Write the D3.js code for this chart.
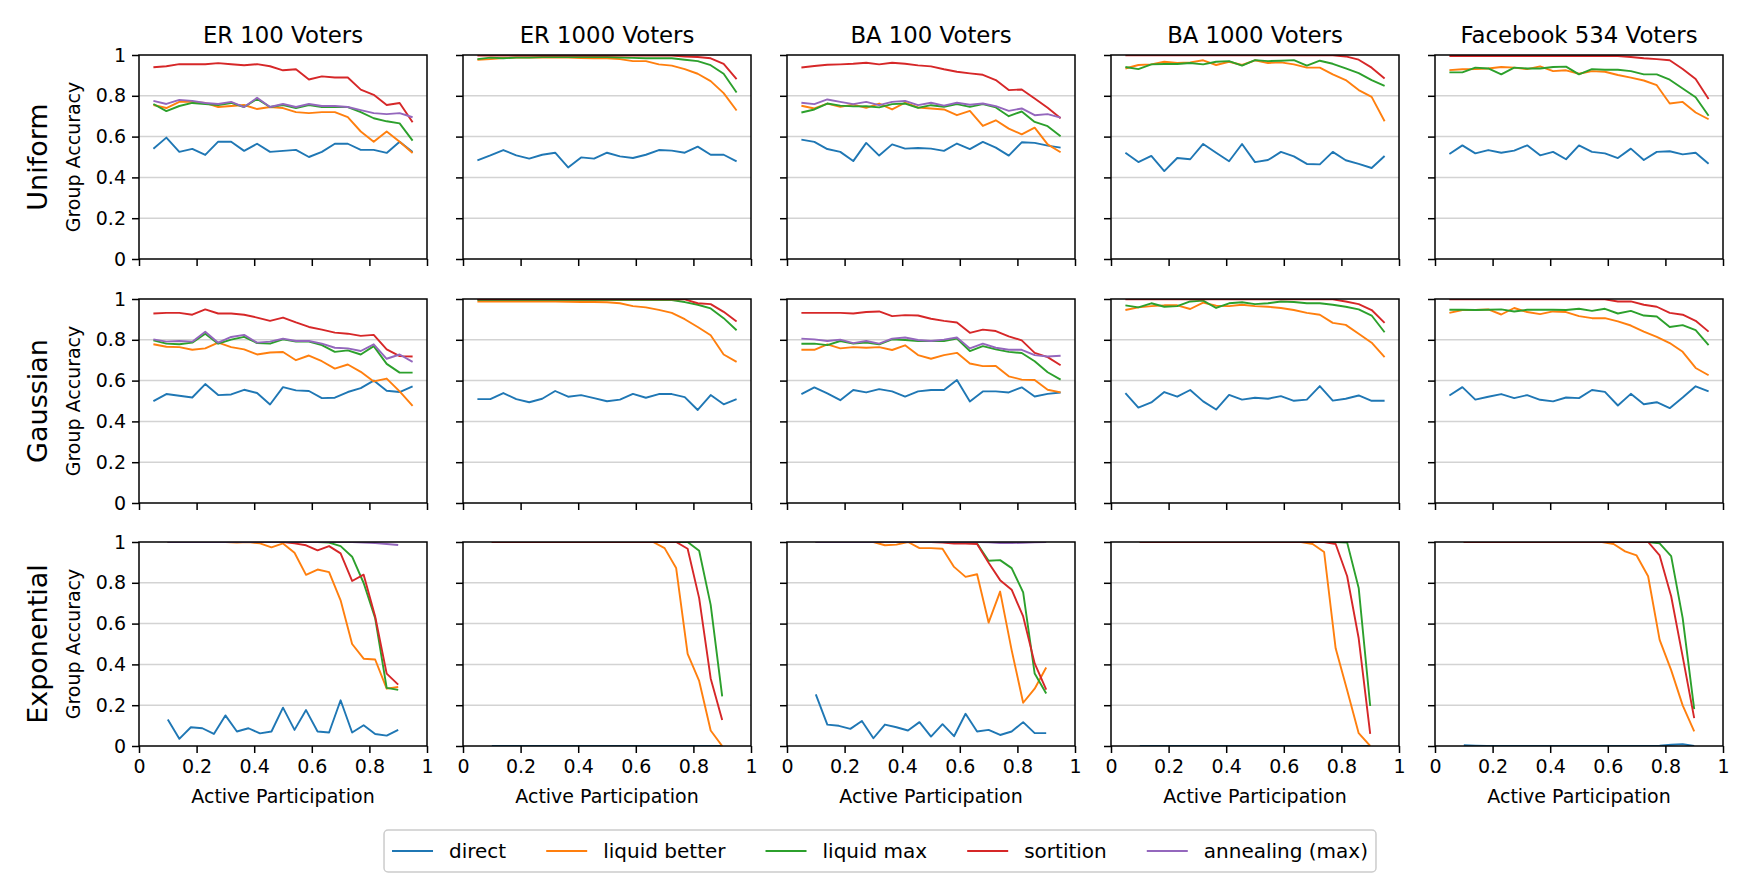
<!DOCTYPE html>
<html>
<head>
<meta charset="utf-8">
<script src="https://cdn.jsdelivr.net/npm/d3@7"></script>
<style>
    body { margin: 0; background: #fff; }
    svg { display: block; font-family: "DejaVu Sans", sans-serif; }
</style>
</head>
<body>
<svg id="chart" width="1755" height="880"></svg>
<script>
// --- Labels / ticks ---
const columnTitles = ['ER 100 Voters', 'ER 1000 Voters', 'BA 100 Voters', 'BA 1000 Voters', 'Facebook 534 Voters'];
const rowTitles = ['Uniform', 'Gaussian', 'Exponential'];
const seriesNames = ['direct', 'liquid better', 'liquid max', 'sortition', 'annealing (max)'];
const xTicks = [0, 0.2, 0.4, 0.6, 0.8, 1];
const yTicks = [0, 0.2, 0.4, 0.6, 0.8, 1];
const xTickLabels = ['0', '0.2', '0.4', '0.6', '0.8', '1'];
const yTickLabels = ['0', '0.2', '0.4', '0.6', '0.8', '1'];

// participation levels (uniform / gaussian rows, and exponential row)
const xFine = [0.05, 0.095, 0.14, 0.185, 0.23, 0.275, 0.32, 0.365, 0.41, 0.455, 0.5, 0.545, 0.59, 0.635, 0.68, 0.725, 0.77, 0.815, 0.86, 0.905, 0.95];
const xExp = [0.1, 0.14, 0.18, 0.22, 0.26, 0.3, 0.34, 0.38, 0.42, 0.46, 0.5, 0.54, 0.58, 0.62, 0.66, 0.7, 0.74, 0.78, 0.82, 0.86, 0.9];

// --- Uniform ---
const er100UniDirect = [0.54, 0.595, 0.525, 0.54, 0.51, 0.575, 0.575, 0.53, 0.565, 0.525, 0.53, 0.535, 0.5, 0.525, 0.565, 0.565, 0.535, 0.535, 0.52, 0.575, 0.525];
const er100UniBetter = [0.755, 0.74, 0.77, 0.77, 0.765, 0.745, 0.75, 0.755, 0.735, 0.745, 0.74, 0.72, 0.715, 0.72, 0.72, 0.695, 0.625, 0.575, 0.625, 0.575, 0.52];
const er100UniMax = [0.76, 0.725, 0.75, 0.765, 0.76, 0.755, 0.765, 0.745, 0.785, 0.745, 0.755, 0.74, 0.755, 0.745, 0.745, 0.745, 0.72, 0.69, 0.675, 0.665, 0.58];
const er100UniSort = [0.94, 0.945, 0.955, 0.955, 0.955, 0.96, 0.955, 0.95, 0.955, 0.945, 0.925, 0.93, 0.88, 0.895, 0.89, 0.89, 0.83, 0.805, 0.755, 0.765, 0.67];
const er100UniAnneal = [0.775, 0.76, 0.78, 0.775, 0.765, 0.76, 0.77, 0.745, 0.79, 0.745, 0.76, 0.745, 0.76, 0.75, 0.75, 0.745, 0.73, 0.715, 0.71, 0.715, 0.695];

const er1000UniDirect = [0.484, 0.508, 0.534, 0.508, 0.492, 0.511, 0.521, 0.449, 0.498, 0.492, 0.521, 0.503, 0.495, 0.511, 0.534, 0.531, 0.521, 0.551, 0.511, 0.511, 0.479];
const er1000UniBetter = [0.977, 0.98, 0.985, 0.987, 0.987, 0.987, 0.987, 0.987, 0.985, 0.984, 0.984, 0.98, 0.97, 0.97, 0.954, 0.948, 0.931, 0.908, 0.872, 0.813, 0.728];
const er1000UniMax = [0.98, 0.987, 0.984, 0.988, 0.988, 0.99, 0.99, 0.99, 0.99, 0.99, 0.99, 0.988, 0.986, 0.984, 0.984, 0.984, 0.977, 0.97, 0.95, 0.908, 0.816];
const er1000UniSort = [0.997, 0.997, 0.997, 0.997, 0.997, 0.997, 0.997, 0.997, 0.997, 0.997, 0.997, 0.997, 0.997, 0.997, 0.997, 0.997, 0.993, 0.99, 0.984, 0.957, 0.882];

const ba100UniDirect = [0.585, 0.574, 0.539, 0.525, 0.48, 0.569, 0.507, 0.562, 0.541, 0.544, 0.541, 0.53, 0.566, 0.539, 0.574, 0.546, 0.507, 0.572, 0.569, 0.556, 0.546];
const ba100UniBetter = [0.751, 0.738, 0.762, 0.746, 0.757, 0.741, 0.762, 0.733, 0.766, 0.743, 0.738, 0.733, 0.705, 0.726, 0.652, 0.68, 0.639, 0.611, 0.644, 0.562, 0.523];
const ba100UniMax = [0.718, 0.733, 0.762, 0.752, 0.748, 0.749, 0.743, 0.759, 0.762, 0.741, 0.754, 0.746, 0.759, 0.746, 0.759, 0.743, 0.7, 0.723, 0.672, 0.651, 0.602];
const ba100UniSort = [0.939, 0.946, 0.952, 0.954, 0.957, 0.962, 0.954, 0.962, 0.957, 0.949, 0.944, 0.93, 0.918, 0.91, 0.903, 0.877, 0.828, 0.831, 0.787, 0.741, 0.69];
const ba100UniAnneal = [0.766, 0.759, 0.782, 0.77, 0.759, 0.77, 0.754, 0.77, 0.775, 0.754, 0.766, 0.752, 0.766, 0.756, 0.762, 0.749, 0.726, 0.738, 0.705, 0.71, 0.693];

const ba1000UniDirect = [0.521, 0.475, 0.505, 0.431, 0.495, 0.489, 0.564, 0.521, 0.479, 0.564, 0.475, 0.485, 0.525, 0.503, 0.466, 0.464, 0.525, 0.484, 0.466, 0.446, 0.505];
const ba1000UniBetter = [0.934, 0.951, 0.954, 0.967, 0.961, 0.964, 0.974, 0.951, 0.967, 0.951, 0.974, 0.961, 0.964, 0.954, 0.938, 0.938, 0.905, 0.877, 0.828, 0.795, 0.675];
const ba1000UniMax = [0.941, 0.931, 0.954, 0.956, 0.956, 0.961, 0.954, 0.967, 0.97, 0.948, 0.975, 0.97, 0.972, 0.975, 0.948, 0.972, 0.957, 0.934, 0.911, 0.877, 0.849];
const ba1000UniSort = [0.998, 0.998, 0.998, 0.998, 0.998, 0.998, 0.998, 0.998, 0.998, 0.998, 0.998, 0.998, 0.998, 0.998, 0.998, 0.998, 0.998, 0.993, 0.977, 0.938, 0.885];

const fbUniDirect = [0.515, 0.557, 0.518, 0.534, 0.521, 0.531, 0.557, 0.508, 0.525, 0.489, 0.557, 0.525, 0.518, 0.495, 0.541, 0.485, 0.525, 0.528, 0.513, 0.521, 0.467];
const fbUniBetter = [0.926, 0.93, 0.931, 0.934, 0.941, 0.938, 0.931, 0.944, 0.921, 0.925, 0.908, 0.921, 0.918, 0.902, 0.889, 0.875, 0.852, 0.762, 0.77, 0.718, 0.685];
const fbUniMax = [0.915, 0.915, 0.938, 0.934, 0.905, 0.938, 0.934, 0.934, 0.941, 0.943, 0.905, 0.931, 0.928, 0.928, 0.921, 0.905, 0.905, 0.879, 0.836, 0.793, 0.702];
const fbUniSort = [0.995, 0.995, 0.995, 0.995, 0.995, 0.995, 0.995, 0.995, 0.995, 0.995, 0.995, 0.995, 0.995, 0.995, 0.99, 0.984, 0.98, 0.974, 0.931, 0.882, 0.784];

// --- Gaussian ---
const er100GauDirect = [0.499, 0.534, 0.526, 0.517, 0.583, 0.529, 0.532, 0.555, 0.539, 0.483, 0.568, 0.552, 0.549, 0.514, 0.516, 0.544, 0.563, 0.6, 0.55, 0.544, 0.572];
const er100GauBetter = [0.778, 0.766, 0.764, 0.751, 0.758, 0.786, 0.764, 0.753, 0.728, 0.738, 0.74, 0.7, 0.723, 0.695, 0.659, 0.679, 0.643, 0.596, 0.61, 0.547, 0.476];
const er100GauMax = [0.797, 0.781, 0.778, 0.786, 0.83, 0.781, 0.801, 0.814, 0.784, 0.781, 0.802, 0.791, 0.791, 0.774, 0.741, 0.748, 0.728, 0.769, 0.682, 0.639, 0.639];
const er100GauSort = [0.929, 0.932, 0.932, 0.923, 0.949, 0.929, 0.929, 0.923, 0.909, 0.893, 0.909, 0.885, 0.863, 0.85, 0.835, 0.83, 0.819, 0.824, 0.753, 0.72, 0.718];
const er100GauAnneal = [0.802, 0.791, 0.794, 0.791, 0.839, 0.786, 0.814, 0.824, 0.786, 0.791, 0.806, 0.794, 0.794, 0.781, 0.761, 0.758, 0.745, 0.778, 0.707, 0.728, 0.692];

const er1000GauDirect = [0.509, 0.509, 0.539, 0.509, 0.494, 0.511, 0.549, 0.521, 0.529, 0.514, 0.499, 0.507, 0.535, 0.516, 0.534, 0.534, 0.519, 0.456, 0.529, 0.484, 0.509];
const er1000GauBetter = [0.987, 0.987, 0.988, 0.988, 0.988, 0.987, 0.987, 0.986, 0.985, 0.985, 0.984, 0.979, 0.965, 0.959, 0.947, 0.932, 0.901, 0.863, 0.822, 0.728, 0.692];
const er1000GauMax = [0.995, 0.995, 0.995, 0.995, 0.995, 0.995, 0.995, 0.995, 0.995, 0.995, 0.995, 0.995, 0.995, 0.995, 0.995, 0.995, 0.985, 0.972, 0.954, 0.906, 0.847];
const er1000GauSort = [0.998, 0.998, 0.998, 0.998, 0.998, 0.998, 0.998, 0.998, 0.998, 0.998, 0.998, 0.998, 0.998, 0.998, 0.998, 0.998, 0.998, 0.979, 0.975, 0.937, 0.89];

const ba100GauDirect = [0.534, 0.567, 0.537, 0.504, 0.554, 0.542, 0.558, 0.547, 0.522, 0.547, 0.554, 0.554, 0.603, 0.498, 0.547, 0.547, 0.542, 0.567, 0.522, 0.535, 0.542];
const ba100GauBetter = [0.751, 0.751, 0.778, 0.758, 0.764, 0.761, 0.764, 0.75, 0.773, 0.725, 0.707, 0.725, 0.736, 0.684, 0.671, 0.672, 0.621, 0.605, 0.603, 0.555, 0.542];
const ba100GauMax = [0.781, 0.781, 0.774, 0.794, 0.781, 0.786, 0.778, 0.802, 0.799, 0.794, 0.794, 0.794, 0.806, 0.745, 0.769, 0.753, 0.741, 0.735, 0.695, 0.641, 0.605];
const ba100GauSort = [0.932, 0.932, 0.932, 0.932, 0.929, 0.936, 0.939, 0.916, 0.921, 0.919, 0.903, 0.893, 0.885, 0.834, 0.85, 0.843, 0.817, 0.797, 0.736, 0.715, 0.675];
const ba100GauAnneal = [0.806, 0.802, 0.794, 0.801, 0.784, 0.794, 0.781, 0.806, 0.811, 0.799, 0.794, 0.801, 0.811, 0.758, 0.781, 0.761, 0.751, 0.751, 0.725, 0.718, 0.722];

const ba1000GauDirect = [0.539, 0.468, 0.493, 0.544, 0.521, 0.554, 0.498, 0.458, 0.53, 0.507, 0.516, 0.511, 0.524, 0.501, 0.507, 0.573, 0.502, 0.511, 0.527, 0.501, 0.501];
const ba1000GauBetter = [0.946, 0.959, 0.965, 0.969, 0.969, 0.951, 0.982, 0.967, 0.965, 0.972, 0.965, 0.962, 0.956, 0.946, 0.932, 0.923, 0.883, 0.873, 0.83, 0.786, 0.715];
const ba1000GauMax = [0.969, 0.959, 0.979, 0.962, 0.965, 0.988, 0.992, 0.956, 0.979, 0.984, 0.975, 0.979, 0.988, 0.985, 0.979, 0.979, 0.972, 0.962, 0.949, 0.919, 0.837];
const ba1000GauSort = [0.998, 0.998, 0.998, 0.998, 0.998, 0.998, 0.998, 0.998, 0.998, 0.998, 0.998, 0.998, 0.998, 0.998, 0.998, 0.998, 0.998, 0.988, 0.975, 0.946, 0.883];

const fbGauDirect = [0.527, 0.568, 0.507, 0.521, 0.534, 0.514, 0.529, 0.506, 0.498, 0.517, 0.514, 0.554, 0.545, 0.478, 0.535, 0.484, 0.494, 0.465, 0.517, 0.572, 0.547];
const fbGauBetter = [0.932, 0.946, 0.946, 0.949, 0.924, 0.956, 0.936, 0.926, 0.939, 0.936, 0.916, 0.906, 0.906, 0.89, 0.87, 0.84, 0.814, 0.784, 0.741, 0.662, 0.626];
const fbGauMax = [0.947, 0.947, 0.946, 0.947, 0.949, 0.939, 0.947, 0.947, 0.947, 0.946, 0.952, 0.942, 0.952, 0.929, 0.942, 0.919, 0.914, 0.863, 0.872, 0.847, 0.774];
const fbGauSort = [0.998, 0.998, 0.998, 0.998, 0.998, 0.998, 0.998, 0.998, 0.998, 0.998, 0.998, 0.998, 0.998, 0.988, 0.988, 0.972, 0.962, 0.932, 0.923, 0.893, 0.84];

// --- Exponential ---
const er100ExpDirect = [0.13, 0.035, 0.092, 0.087, 0.059, 0.15, 0.071, 0.087, 0.062, 0.071, 0.188, 0.079, 0.176, 0.071, 0.066, 0.224, 0.066, 0.102, 0.059, 0.051, 0.079];
const er100ExpBetter = [1, 1, 1, 1, 1, 1, 0.997, 1, 0.993, 0.974, 0.993, 0.947, 0.839, 0.865, 0.852, 0.714, 0.5, 0.428, 0.424, 0.281, 0.289];
const er100ExpMax = [1, 1, 1, 1, 1, 1, 1, 1, 1, 1, 1, 1, 1, 1, 0.997, 0.98, 0.928, 0.799, 0.627, 0.285, 0.275];
const er100ExpSort = [1, 1, 1, 1, 1, 1, 1, 1, 1, 1, 1, 0.993, 0.984, 0.959, 0.98, 0.944, 0.809, 0.84, 0.635, 0.355, 0.301];
const er100ExpAnneal = [1, 1, 1, 1, 1, 1, 1, 1, 1, 1, 1, 1, 1, 1, 1, 1, 1, 0.997, 0.995, 0.99, 0.985];

const er1000ExpDirect = [0, 0, 0, 0, 0, 0, 0, 0, 0, 0, 0, 0, 0, 0, 0, 0, 0, 0, 0, 0, 0];
const er1000ExpBetter = [1, 1, 1, 1, 1, 1, 1, 1, 1, 1, 1, 1, 1, 1, 1, 0.97, 0.873, 0.451, 0.319, 0.076, 0.0];
const er1000ExpMax = [1, 1, 1, 1, 1, 1, 1, 1, 1, 1, 1, 1, 1, 1, 1, 1, 1, 1, 0.957, 0.692, 0.243];
const er1000ExpSort = [1, 1, 1, 1, 1, 1, 1, 1, 1, 1, 1, 1, 1, 1, 1, 1, 1, 0.967, 0.725, 0.331, 0.128];

const ba100ExpDirect = [0.253, 0.105, 0.099, 0.084, 0.123, 0.038, 0.105, 0.092, 0.076, 0.117, 0.046, 0.107, 0.048, 0.158, 0.071, 0.079, 0.054, 0.071, 0.117, 0.063, 0.063];
const ba100ExpBetter = [1, 1, 1, 1, 1, 1, 0.984, 0.987, 1, 0.97, 0.97, 0.967, 0.878, 0.829, 0.842, 0.605, 0.757, 0.47, 0.212, 0.281, 0.385];
const ba100ExpMax = [1, 1, 1, 1, 1, 1, 1, 1, 1, 1, 1, 1, 1, 1, 0.993, 0.908, 0.911, 0.872, 0.753, 0.355, 0.257];
const ba100ExpSort = [1, 1, 1, 1, 1, 1, 1, 1, 1, 1, 1, 0.997, 0.993, 0.993, 0.99, 0.898, 0.813, 0.766, 0.635, 0.405, 0.276];
const ba100ExpAnneal = [1, 1, 1, 1, 1, 1, 1, 1, 1, 1, 1, 1, 1, 1, 1, 0.998, 0.995, 0.995, 0.996, 0.998, 1];

const ba1000ExpDirect = [0, 0, 0, 0, 0, 0, 0, 0, 0, 0, 0, 0, 0, 0, 0, 0, 0, 0, 0, 0, 0];
const ba1000ExpBetter = [1, 1, 1, 1, 1, 1, 1, 1, 1, 1, 1, 1, 1, 1, 1, 0.99, 0.951, 0.479, 0.273, 0.063, 0.0];
const ba1000ExpMax = [1, 1, 1, 1, 1, 1, 1, 1, 1, 1, 1, 1, 1, 1, 1, 1, 1, 1, 0.997, 0.775, 0.196];
const ba1000ExpSort = [1, 1, 1, 1, 1, 1, 1, 1, 1, 1, 1, 1, 1, 1, 1, 1, 1, 0.99, 0.832, 0.528, 0.059];

const fbExpDirect = [0.004, 0.002, 0, 0, 0, 0, 0, 0, 0, 0, 0, 0, 0, 0, 0, 0, 0, 0.002, 0.006, 0.009, 0];
const fbExpBetter = [1, 1, 1, 1, 1, 1, 1, 1, 1, 1, 1, 1, 1, 0.99, 0.954, 0.934, 0.832, 0.52, 0.372, 0.199, 0.072];
const fbExpMax = [1, 1, 1, 1, 1, 1, 1, 1, 1, 1, 1, 1, 1, 1, 1, 1, 1, 0.993, 0.931, 0.627, 0.181];
const fbExpSort = [1, 1, 1, 1, 1, 1, 1, 1, 1, 1, 1, 1, 1, 1, 1, 1, 1, 0.934, 0.734, 0.438, 0.137];

// panel list, row by row: [x values, direct, liquid better, liquid max, sortition, annealing]
const panels = [
    [xFine, er100UniDirect, er100UniBetter, er100UniMax, er100UniSort, er100UniAnneal],
    [xFine, er1000UniDirect, er1000UniBetter, er1000UniMax, er1000UniSort, null],
    [xFine, ba100UniDirect, ba100UniBetter, ba100UniMax, ba100UniSort, ba100UniAnneal],
    [xFine, ba1000UniDirect, ba1000UniBetter, ba1000UniMax, ba1000UniSort, null],
    [xFine, fbUniDirect, fbUniBetter, fbUniMax, fbUniSort, null],
    [xFine, er100GauDirect, er100GauBetter, er100GauMax, er100GauSort, er100GauAnneal],
    [xFine, er1000GauDirect, er1000GauBetter, er1000GauMax, er1000GauSort, null],
    [xFine, ba100GauDirect, ba100GauBetter, ba100GauMax, ba100GauSort, ba100GauAnneal],
    [xFine, ba1000GauDirect, ba1000GauBetter, ba1000GauMax, ba1000GauSort, null],
    [xFine, fbGauDirect, fbGauBetter, fbGauMax, fbGauSort, null],
    [xExp, er100ExpDirect, er100ExpBetter, er100ExpMax, er100ExpSort, er100ExpAnneal],
    [xExp, er1000ExpDirect, er1000ExpBetter, er1000ExpMax, er1000ExpSort, null],
    [xExp, ba100ExpDirect, ba100ExpBetter, ba100ExpMax, ba100ExpSort, ba100ExpAnneal],
    [xExp, ba1000ExpDirect, ba1000ExpBetter, ba1000ExpMax, ba1000ExpSort, null],
    [xExp, fbExpDirect, fbExpBetter, fbExpMax, fbExpSort, null]
];

// --- Styles / layout ---
const colors = ['#1f77b4', '#ff7f0e', '#2ca02c', '#d62728', '#9467bd'];
const panelW = 288, panelH = 204;
const colLeft = [139, 463, 787, 1111, 1435];
const rowTop = [55, 299, 542];
const tickFont = 19, titleFont = 22.8, rowFont = 27, legendFont = 20;

const svg = d3.select('#chart');

svg.append('defs').append('clipPath').attr('id', 'plotClip')
    .append('rect').attr('width', panelW).attr('height', panelH);

const xScale = d3.scaleLinear().domain([0, 1]).range([0, panelW]);
const yScale = d3.scaleLinear().domain([0, 1]).range([panelH, 0]);
const line = d3.line().x(d => xScale(d[0])).y(d => yScale(d[1]));

panels.forEach((p, k) => {
    const r = Math.floor(k / 5), c = k % 5;
    const g = svg.append('g').attr('transform', `translate(${colLeft[c]},${rowTop[r]})`);

    // horizontal grid
    g.selectAll('.grid')
        .data(yTicks.filter(t => t > 0 && t < 1))
        .join('line')
        .attr('x1', 0).attr('x2', panelW)
        .attr('y1', d => yScale(d)).attr('y2', d => yScale(d))
        .attr('stroke', '#d3d3d3')
        .attr('stroke-width', 1.5);

    // series lines
    const plot = g.append('g').attr('clip-path', 'url(#plotClip)');
    p.slice(1).forEach((vals, i) => {
        if (!vals) return;
        plot.append('path')
            .datum(p[0].map((xv, j) => [xv, vals[j]]))
            .attr('d', line)
            .attr('fill', 'none')
            .attr('stroke', colors[i])
            .attr('stroke-width', 1.9)
            .attr('stroke-linejoin', 'round');
    });

    // axes
    const xAxis = d3.axisBottom(xScale).tickValues(xTicks).tickSize(7).tickPadding(7)
        .tickFormat((d, i) => r === 2 ? xTickLabels[i] : '');
    const yAxis = d3.axisLeft(yScale).tickValues(yTicks).tickSize(7).tickPadding(6)
        .tickFormat((d, i) => c === 0 ? yTickLabels[i] : '');

    const gx = g.append('g').attr('transform', `translate(0,${panelH})`).call(xAxis);
    const gy = g.append('g').call(yAxis);
    [gx, gy].forEach(a => {
        a.select('.domain').remove();
        a.selectAll('line').attr('stroke', '#000').attr('stroke-width', 1.5);
        a.selectAll('text').attr('fill', '#000')
            .style('font-size', tickFont + 'px')
            .style('font-family', '"DejaVu Sans", sans-serif');
    });

    // frame
    g.append('rect')
        .attr('width', panelW).attr('height', panelH)
        .attr('fill', 'none').attr('stroke', '#000').attr('stroke-width', 1.5);

    if (r === 0) {
        g.append('text')
            .attr('x', panelW / 2).attr('y', -12)
            .attr('text-anchor', 'middle')
            .style('font-size', titleFont + 'px')
            .text(columnTitles[c]);
    }
    if (r === 2) {
        g.append('text')
            .attr('x', panelW / 2).attr('y', panelH + 57)
            .attr('text-anchor', 'middle')
            .style('font-size', tickFont + 'px')
            .text('Active Participation');
    }
});

// row labels
rowTitles.forEach((t, r) => {
    const cy = rowTop[r] + panelH / 2;
    svg.append('text')
        .attr('transform', `translate(37,${cy}) rotate(-90)`)
        .attr('text-anchor', 'middle')
        .attr('dominant-baseline', 'central')
        .style('font-size', rowFont + 'px')
        .text(t);
    svg.append('text')
        .attr('transform', `translate(73,${cy}) rotate(-90)`)
        .attr('text-anchor', 'middle')
        .attr('dominant-baseline', 'central')
        .style('font-size', tickFont + 'px')
        .text('Group Accuracy');
});

// --- Legend ---
const legend = svg.append('g');
const box = legend.append('rect');
const items = legend.append('g');
const colGap = 40;
let cursor = 0;
seriesNames.forEach((name, i) => {
    const it = items.append('g').attr('transform', `translate(${cursor},0)`);
    it.append('line')
        .attr('x1', 0).attr('x2', 41).attr('y1', 0).attr('y2', 0)
        .attr('stroke', colors[i]).attr('stroke-width', 1.9);
    const t = it.append('text')
        .attr('x', 57).attr('y', 0)
        .attr('dominant-baseline', 'central')
        .style('font-size', legendFont + 'px')
        .text(name);
    cursor += 57 + t.node().getComputedTextLength() + colGap;
});
const itemsW = cursor - colGap;
const legendCx = 880, legendCy = 851;
items.attr('transform', `translate(${legendCx - itemsW / 2},${legendCy})`);
box.attr('x', legendCx - itemsW / 2 - 8).attr('y', legendCy - 21)
    .attr('width', itemsW + 16).attr('height', 42)
    .attr('rx', 4)
    .attr('fill', '#fff').attr('fill-opacity', 0.8)
    .attr('stroke', '#cccccc').attr('stroke-width', 1.5);
</script>
</body>
</html>
